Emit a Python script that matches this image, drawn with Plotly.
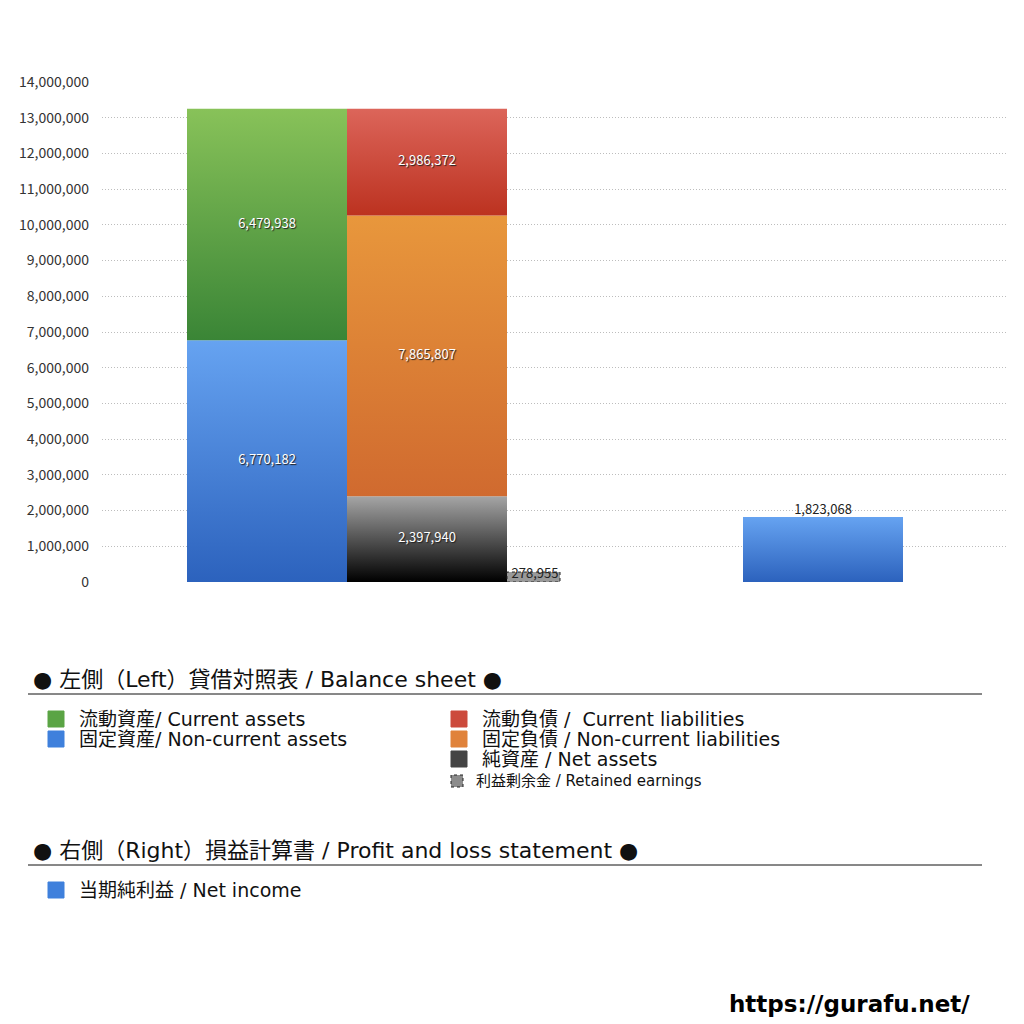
import plotly.graph_objects as go

# balance sheet (left) and P/L (right) values
asset_names = ["固定資産/ Non-current assets", "流動資産/ Current assets"]
asset_values = [6770182, 6479938]
liability_names = ["純資産 / Net assets", "固定負債 / Non-current liabilities", "流動負債 /  Current liabilities"]
liability_values = [2397940, 7865807, 2986372]
retained_name = "利益剰余金 / Retained earnings"
retained_value = 278955
income_name = "当期純利益 / Net income"
income_value = 1823068
y_ticks = list(range(0, 14000001, 1000000))

# gradient colours (bottom, top)
asset_colors = [("#2c62bd", "#66a3f1"), ("#3a8536", "#88c259")]
liability_colors = [("#000000", "#a5a5a5"), ("#d06a2f", "#e8973c"), ("#bc3220", "#dc655a")]
income_colors = ("#2c62bd", "#66a3f1")

FONT = "Noto Sans CJK JP"
TXT_FONT = "DejaVu Sans, Noto Sans CJK JP"
OFF = 8  # page body margin
W = H = 1016
L, R, T, B = 102 - OFF, 1006 - OFF, 82 - OFF, 582 - OFF  # plot area in figure pixels


def px(x):
    # x given in screenshot pixels
    return (x - OFF - L) / (R - L)


def py(y):
    return (B - (y - OFF)) / (B - T)


fig = go.Figure()


def add_bar(x0, x1, base, value, c_bottom, c_top, text, inside=True):
    fig.add_trace(go.Scatter(
        x=[x0, x1, x1, x0, x0], y=[base, base, base + value, base + value, base],
        mode="lines", fill="toself", line=dict(width=0),
        fillgradient=dict(type="vertical", colorscale=[[0, c_bottom], [1, c_top]]),
        hoverinfo="skip", showlegend=False))
    if inside:
        fig.add_trace(go.Scatter(
            x=[(x0 + x1) / 2], y=[base + value / 2], mode="text", text=[text],
            textfont=dict(family=FONT, size=13, color="white", shadow="1px 1px 1px #222"),
            hoverinfo="skip", showlegend=False))
    else:
        fig.add_trace(go.Scatter(
            x=[(x0 + x1) / 2], y=[base + value], mode="text", text=[text],
            textposition="top center",
            textfont=dict(family=FONT, size=13, color="#222"),
            hoverinfo="skip", showlegend=False))


# left: assets
base = 0
for v, (cb, ct) in zip(asset_values, asset_colors):
    add_bar(px(187), px(347), base, v, cb, ct, f"{v:,}")
    base += v

# left: liabilities + net assets
base = 0
for v, (cb, ct) in zip(liability_values, liability_colors):
    add_bar(px(347), px(507), base, v, cb, ct, f"{v:,}")
    base += v

# retained earnings (grey box with dotted outline)
rx0, rx1 = px(507), px(560)
fig.add_trace(go.Scatter(
    x=[rx0, rx1, rx1, rx0, rx0], y=[0, 0, retained_value, retained_value, 0],
    mode="lines", fill="toself", fillcolor="#999999",
    line=dict(color="#222", width=1, dash="dot"),
    hoverinfo="skip", showlegend=False, cliponaxis=False))
fig.add_trace(go.Scatter(
    x=[px(535)], y=[retained_value * 0.7], mode="text", text=[f"{retained_value:,}"],
    textfont=dict(family=FONT, size=13, color="#222"),
    hoverinfo="skip", showlegend=False, cliponaxis=False))

# right: net income
add_bar(px(743), px(903), 0, income_value, income_colors[0], income_colors[1],
        f"{income_value:,}", inside=False)

shapes = []
annotations = []


def header(y, text):
    annotations.append(dict(x=px(31), y=py(y), xref="paper", yref="paper", text=text,
                            showarrow=False, xanchor="left", yanchor="middle",
                            font=dict(family=TXT_FONT, size=22, color="#111")))
    shapes.append(dict(type="line", xref="paper", yref="paper", x0=px(28), x1=px(982),
                       y0=py(y + 15), y1=py(y + 15), line=dict(color="#111", width=1)))


def item(x, y, text, color, size=19, box=16, dotted=False):
    shapes.append(dict(type="rect", xref="paper", yref="paper",
                       x0=px(x), x1=px(x + box), y0=py(y + box / 2), y1=py(y - box / 2),
                       fillcolor=color,
                       line=dict(color="#222" if dotted else color, width=1,
                                 dash="dot" if dotted else "solid")))
    annotations.append(dict(x=px(x + box + (13 if not dotted else 11)), y=py(y), xref="paper", yref="paper",
                            text=text, showarrow=False, xanchor="left", yanchor="middle",
                            font=dict(family=TXT_FONT, size=size, color="#111")))


header(679, "● 左側（Left）貸借対照表 / Balance sheet ●")
item(48, 719, asset_names[1], "#5aa444")
item(48, 739, asset_names[0], "#3f80dc")
item(451, 719, liability_names[2], "#cc4a3c")
item(451, 739, liability_names[1], "#e0823a")
item(451, 759, liability_names[0], "#444444")
item(451, 781, retained_name, "#8c8c8c", size=15, box=12, dotted=True)

header(850, "● 右側（Right）損益計算書 / Profit and loss statement ●")
item(48, 890, income_name, "#3f80dc")

annotations.append(dict(x=px(972), y=py(1004), xref="paper", yref="paper",
                        text="<b>https://gurafu.net/</b>", showarrow=False,
                        xanchor="right", yanchor="middle",
                        font=dict(family="DejaVu Sans", size=23, color="#000")))

fig.update_layout(
    width=W, height=H,
    margin=dict(l=L, r=W - R, t=T, b=H - B),
    paper_bgcolor="white", plot_bgcolor="white",
    showlegend=False,
    shapes=shapes, annotations=annotations,
    xaxis=dict(range=[0, 1], visible=False, fixedrange=True),
    yaxis=dict(range=[0, 14000000], tickvals=y_ticks, tickformat=",d",
               showgrid=True, gridcolor="#bdbdbd", griddash="1px,2px", gridwidth=1,
               zeroline=False, showline=False, ticks="", ticklabelstandoff=12,
               tickfont=dict(family=FONT, size=14, color="#333")),
)

fig.write_html("out.html")
